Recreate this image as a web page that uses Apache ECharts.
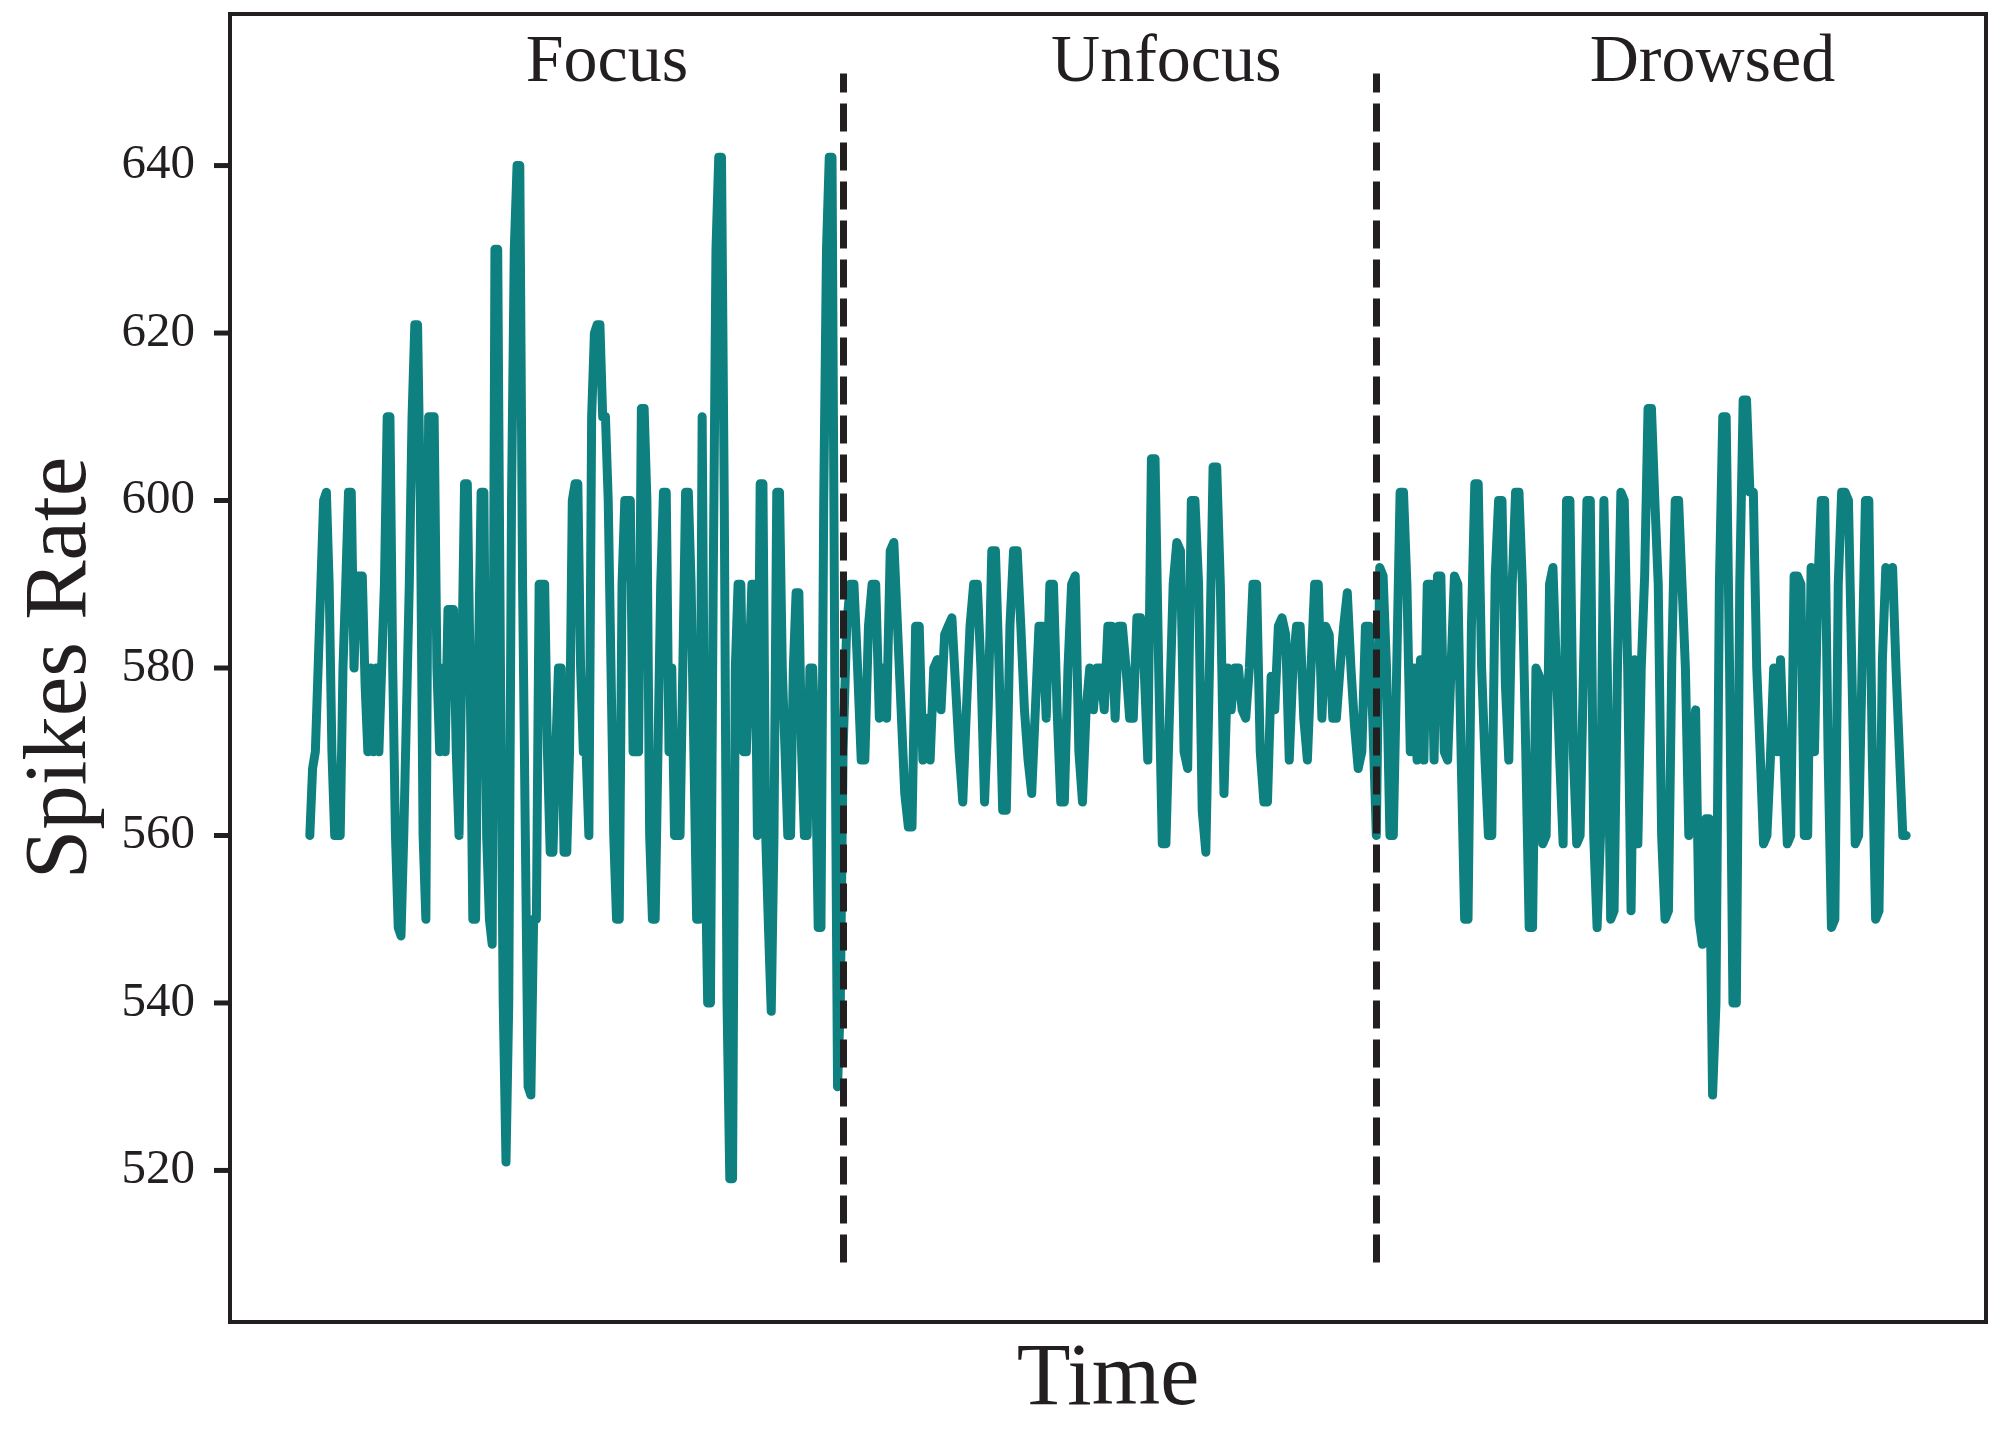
<!DOCTYPE html>
<html><head><meta charset="utf-8">
<script src="https://cdn.jsdelivr.net/npm/echarts@6/dist/echarts.min.js"></script>
<style>html,body{margin:0;padding:0;background:#fff}#c{width:2010px;height:1431px}</style>
</head><body><div id="c"></div>
<script>
const stateNames = ['Focus', 'Unfocus', 'Drowsed'];
const stateLabelX = [1.405, 2.39, 3.40];
const stateLabelY = [652.2, 652.2, 652.2];
const yTicks = [520, 540, 560, 580, 600, 620, 640];
const dividerX = [2, 3];

const focusRates = [
  560,568,570,580,590,600,601,590,570,560,
  560,560,580,590,601,601,580,591,591,591,
  578,570,580,570,580,570,580,590,610,610,
  580,560,549,548,560,575,590,610,621,621,
  600,560,550,610,610,610,580,570,580,570,
  587,587,587,570,560,580,602,602,580,550,
  550,580,601,601,560,550,547,630,630,580,
  540,521,540,600,630,640,640,590,560,530,
  529,550,550,590,590,590,570,558,558,570,
  580,580,558,558,570,600,602,602,580,570,
  570,560,610,620,
  621,621,610,610,600,580,560,550,550,590,
  600,600,600,570,570,570,611,611,600,560,
  550,550,570,590,601,601,570,580,560,560,
  560,580,601,601,590,570,550,550,610,560,
  540,540,590,630,641,641,600,540,519,519,
  580,590,590,570,570,580,590,590,560,602,
  602,560,549,539,560,601,601,580,570,560,
  560,580,589,589,570,560,560,580,580,570,
  549,549,600,630,641,641,580,530,540
];
const unfocusRates = [
  570,585,590,590,580,569,569,585,590,590,
  574,580,574,594,595,585,575,565,561,561,
  585,585,569,574,569,580,581,575,584,585,
  586,578,570,564,575,585,590,590,580,564,
  575,594,594,580,563,563,585,594,594,585,
  575,569,565,575,585,585,574,590,590,575,
  564,564,580,590,591,570,564,575,580,575,
  580,580,575,585,585,
  574,585,585,580,574,574,586,586,580,569,
  605,605,580,559,559,575,590,595,594,570,
  568,600,600,590,563,558,580,604,604,590,
  565,580,575,580,580,575,574,580,590,590,
  570,564,564,579,575,585,586,584,569,580,
  585,585,574,569,580,590,590,574,585,584,
  574,574,580,585,589,580,573,568,570,585,
  585,574
];
const drowsedRates = [
  560,592,591,580,560,560,580,601,601,590,
  570,580,569,581,569,590,590,569,591,591,
  570,569,580,591,590,569,550,550,585,602,
  602,580,569,560,560,591,600,600,578,569,
  590,601,601,590,570,549,549,580,579,559,
  560,590,592,580,569,559,600,600,570,559,
  560,580,600,600,560,549,560,600,580,550,
  551,580,601,600,580,551,
  581,559,580,591,611,611,600,590,560,550,
  551,581,600,600,590,580,560,569,575,550,
  547,562,562,529,540,590,610,610,580,540,
  540,590,612,612,601,601,580,570,559,560,
  569,580,570,581,570,559,560,591,591,590,
  560,560,592,570,590,600,600,570,549,550,
  590,601,601,600,580,559,560,580,600,600,
  570,550,551,581,592,591,592,580,570,560,560
];

const segments = [focusRates, unfocusRates, drowsedRates];
const points = [];
segments.forEach((seg, k) => seg.forEach((v, i) => points.push([k + 1 + i / seg.length, v])));
const allVals = segments.flat();
const lineLo = Math.min(...allVals) - 10;
const lineHi = Math.max(...allVals) + 10;
const yPad = (lineHi - lineLo) * 0.05;
const yMin = lineLo - yPad;
const yMax = lineHi + yPad;
const xFirst = points[0][0];
const xLast = points[points.length - 1][0];
const xPad = (xLast - xFirst) * 0.05;
const xMin = xFirst - xPad;

const ink = '#231f20';
const serif = "'Liberation Serif', 'Times New Roman', serif";

const chart = echarts.init(document.getElementById('c'));
chart.setOption({
  animation: false,
  backgroundColor: '#ffffff',
  grid: { left: 230, right: 24, top: 14, bottom: 109, show: true, borderColor: ink, borderWidth: 4, backgroundColor: 'transparent' },
  xAxis: {
    type: 'value', min: xMin, max: xLast + xPad, position: 'bottom',
    name: 'Time', nameLocation: 'middle', nameGap: 15,
    nameTextStyle: { fontFamily: serif, fontSize: 88, color: ink },
    axisLine: { show: true, onZero: false, lineStyle: { color: ink, width: 4 } },
    axisTick: { show: false }, axisLabel: { show: false }, splitLine: { show: false }
  },
  yAxis: {
    type: 'value', min: yMin, max: yMax, position: 'left',
    name: 'Spikes Rate', nameLocation: 'middle', nameGap: 124,
    nameTextStyle: { fontFamily: serif, fontSize: 89, color: ink },
    axisLine: { show: true, onZero: false, lineStyle: { color: ink, width: 4 } },
    axisTick: { show: false },
    axisLabel: { show: true, margin: 35, fontFamily: serif, fontSize: 49, color: ink, customValues: yTicks },
    splitLine: { show: false }
  },
  series: [
    {
      type: 'line', data: points, showSymbol: false, symbol: 'none', z: 2,
      lineStyle: { color: '#0e8080', width: 9, join: 'round', cap: 'round' },
      silent: true
    },
    {
      type: 'line', data: [], z: 5, silent: true,
      markLine: {
        silent: true, symbol: 'none', label: { show: false },
        lineStyle: { color: ink, width: 7, type: [28, 11] },
        data: dividerX.map(x => [{ coord: [x, lineLo] }, { coord: [x, lineHi] }])
      }
    },
    {
      type: 'scatter', symbolSize: 0, z: 6, silent: true,
      itemStyle: { opacity: 1 },
      data: stateNames.map((n, i) => ({ value: [stateLabelX[i], stateLabelY[i]], name: n })),
      label: {
        show: true, position: 'inside', align: 'left', verticalAlign: 'middle',
        formatter: p => p.name, fontFamily: serif, fontSize: 68, color: ink,
        textBorderWidth: 0, opacity: 1
      }
    }
  ]
});

// y-axis tick marks, placed through the chart's own scale
const tickLen = 16;
chart.setOption({
  graphic: yTicks.map(v => {
    const p = chart.convertToPixel({ gridIndex: 0 }, [xMin, v]);
    return {
      type: 'line', z: 100, silent: true,
      shape: { x1: p[0] - tickLen, y1: p[1], x2: p[0], y2: p[1] },
      style: { stroke: ink, lineWidth: 5 }
    };
  })
});
</script>
</body></html>
